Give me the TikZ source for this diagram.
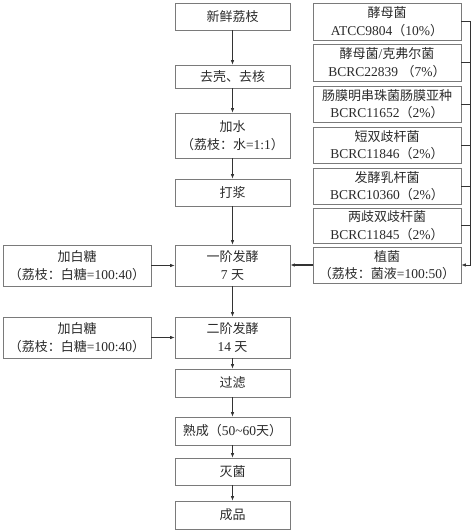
\documentclass[tikz,border=0pt]{standalone}
\usepackage{fontspec}
\setmainfont{Liberation Serif}
\newfontfamily\cjk{Noto Sans CJK SC}[Scale=0.963]
\newcommand\zh[1]{{\cjk #1}}
\usetikzlibrary{arrows.meta}
\definecolor{boxgray}{HTML}{7A7A7A}
\definecolor{linec}{HTML}{333333}
\definecolor{textc}{HTML}{2A2A2A}
\begin{document}
\begin{tikzpicture}[x=1pt,y=-1pt,
  box/.style={draw=boxgray, line width=0.8pt, inner sep=0pt, align=center,
    font=\fontsize{13.5}{17.5}\selectfont, text=textc},
  mid/.style={box, minimum width=115pt},
  side/.style={box, minimum width=148pt},
  arr/.style={draw=linec, line width=0.7pt, -{Latex[length=4.5pt,width=3.5pt]}},
  ln/.style={draw=linec, line width=0.7pt}]
\useasboundingbox (0,0) rectangle (474,532);
% centre column
\node[mid, minimum height=27pt] (n1) at (232.5,16.5) {\zh{新鲜荔枝}};
\node[mid, minimum height=23pt] (n2) at (232.5,76.5) {\zh{去壳、去核}};
\node[mid, minimum height=45pt] (n3) at (232.5,135.5) {\zh{加水}\\\zh{（荔枝：水}=1:1\zh{）}};
\node[mid, minimum height=27pt] (n4) at (232.5,192.5) {\zh{打浆}};
\node[mid, minimum height=41pt] (n5) at (232.5,265.5) {\zh{一阶发酵}\\7 \zh{天}};
\node[mid, minimum height=41pt] (n6) at (232.5,337.5) {\zh{二阶发酵}\\14 \zh{天}};
\node[mid, minimum height=28pt] (n7) at (232.5,383) {\zh{过滤}};
\node[mid, minimum height=28pt] (n8) at (232.5,431) {\zh{熟成（}50\textasciitilde60\zh{天）}};
\node[mid, minimum height=27pt] (n9) at (232.5,471.5) {\zh{灭菌}};
\node[mid, minimum height=28pt] (n10) at (232.5,515) {\zh{成品}};
% left column
\node[side, minimum height=41pt] (L1) at (77,265.5) {\zh{加白糖}\\\zh{（荔枝：白糖}=100:40\zh{）}};
\node[side, minimum height=41pt] (L2) at (77,337.5) {\zh{加白糖}\\\zh{（荔枝：白糖}=100:40\zh{）}};
% right column
\node[side, minimum height=37pt] (R1) at (387,21.5) {\zh{酵母菌}\\ATCC9804\zh{（}10\%\zh{）}};
\node[side, minimum height=37pt] (R2) at (387,62.5) {\zh{酵母菌}/\zh{克弗尔菌}\\BCRC22839 \zh{（}7\%\zh{）}};
\node[side, minimum height=36pt] (R3) at (387,104) {\zh{肠膜明串珠菌肠膜亚种}\\BCRC11652\zh{（}2\%\zh{）}};
\node[side, minimum height=36pt] (R4) at (387,145) {\zh{短双歧杆菌}\\BCRC11846\zh{（}2\%\zh{）}};
\node[side, minimum height=36pt] (R5) at (387,186) {\zh{发酵乳杆菌}\\BCRC10360\zh{（}2\%\zh{）}};
\node[side, minimum height=35pt] (R6) at (387,225.5) {\zh{两歧双歧杆菌}\\BCRC11845\zh{（}2\%\zh{）}};
\node[side, minimum height=36pt] (R7) at (387,265) {\zh{植菌}\\\zh{（荔枝：菌液}=100:50\zh{）}};
\coordinate (bx) at (470.5,0);
% centre arrows
\draw[arr] (n1) -- (n2);
\draw[arr] (n2) -- (n3);
\draw[arr] (n3) -- (n4);
\draw[arr] (n4) -- (n5);
\draw[arr] (n5) -- (n6);
\draw[arr] (n6) -- (n7);
\draw[arr] (n7) -- (n8);
\draw[arr] (n8) -- (n9);
\draw[arr] (n9) -- (n10);
% side arrows
\draw[arr] (L1.east) -- (L1.east -| n5.west);
\draw[arr] (L2.east) -- (L2.east -| n6.west);
\draw[arr, line width=1.2pt] (R7.west) -- (R7.west -| n5.east);
% bracket
\draw[ln] (R2.east) -- (R2.east -| bx);
\draw[ln] (R3.east) -- (R3.east -| bx);
\draw[ln] (R4.east) -- (R4.east -| bx);
\draw[ln] (R5.east) -- (R5.east -| bx);
\draw[ln] (R6.east) -- (R6.east -| bx);
\draw[arr] (R1.east) -- (R1.east -| bx) -- (R7.east -| bx) -- (R7.east);
\end{tikzpicture}
\end{document}
